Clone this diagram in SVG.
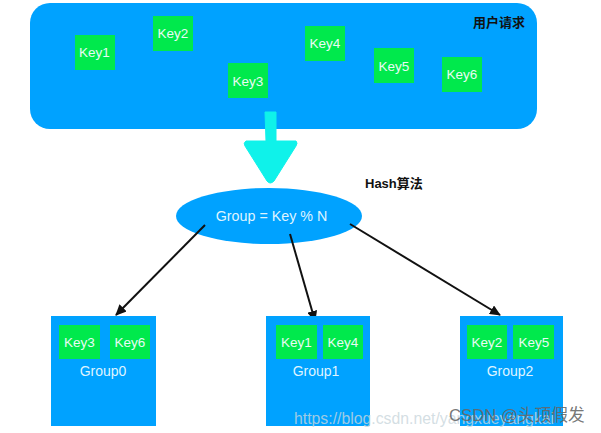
<svg xmlns="http://www.w3.org/2000/svg" width="601" height="433" viewBox="0 0 601 433">
<style>
text{font-family:"Liberation Sans",Arial,sans-serif}
.b{fill:#00a2ff}
.k{fill:#00e94c}
.t{fill:#e8fbf4;font-size:13.500px;text-anchor:middle}
.g{fill:#dff4ff;font-size:14px;text-anchor:middle}
.h{fill:#111;font-size:13px;font-weight:bold;font-family:"Liberation Sans","Noto Sans CJK SC",sans-serif}
.c{stroke:#111;stroke-width:2;fill:none;marker-end:url(#a)}
</style>
<defs><marker id="a" markerUnits="userSpaceOnUse" markerWidth="11" markerHeight="10" refX="10" refY="5" orient="auto"><path d="M0 0L11 5L0 10z" fill="#111"/></marker></defs>
<rect width="601" height="433" fill="#fff"/>
<g id="request">
<rect class="b" x="30" y="3" width="507" height="126" rx="20"/>
<text class="h" x="473" y="27">用户请求</text>
</g>
<g id="key1"><rect class="k" x="75" y="35" width="40" height="35"/><text class="t" x="94.500" y="57">Key1</text></g>
<g id="key2"><rect class="k" x="153" y="16" width="40" height="35"/><text class="t" x="173" y="38">Key2</text></g>
<g id="key3"><rect class="k" x="228" y="63" width="40" height="35"/><text class="t" x="248" y="86">Key3</text></g>
<g id="key4"><rect class="k" x="305" y="26" width="40" height="35"/><text class="t" x="325" y="48">Key4</text></g>
<g id="key5"><rect class="k" x="374" y="48" width="40" height="35"/><text class="t" x="394" y="71">Key5</text></g>
<g id="key6"><rect class="k" x="442" y="57" width="40" height="35"/><text class="t" x="462" y="79">Key6</text></g>
<g id="hash-arrow"><path d="M265 112H276V141H296Q298 143 296 146L274 181Q270 185 267 181L245 146Q243 143 246 141H266Z" fill="#0ff2ea" stroke="#0ff2ea" stroke-width="1" stroke-linejoin="round"/></g>
<g id="hash">
<ellipse class="b" cx="269" cy="216" rx="93" ry="28"/>
<text x="271.500" y="221" fill="#dff4ff" font-size="14.300" text-anchor="middle">Group = Key % N</text>
<text class="h" x="365" y="188">Hash算法</text>
</g>
<g id="connectors">
<line class="c" x1="205" y1="225" x2="116" y2="315"/>
<line class="c" x1="290" y1="234" x2="315" y2="321"/>
<line class="c" x1="350" y1="224" x2="500" y2="315"/>
</g>
<g id="group0"><rect class="b" x="51" y="316" width="105" height="110"/>
<rect class="k" x="59" y="325" width="41" height="34"/><text class="t" x="79.500" y="347">Key3</text>
<rect class="k" x="110" y="325" width="40" height="34"/><text class="t" x="130" y="347">Key6</text>
<text class="g" x="103" y="376">Group0</text></g>
<g id="group1"><rect class="b" x="266" y="316" width="104" height="110"/>
<rect class="k" x="276" y="325" width="41" height="34"/><text class="t" x="296.500" y="347">Key1</text>
<rect class="k" x="323" y="325" width="40" height="34"/><text class="t" x="343" y="347">Key4</text>
<text class="g" x="316" y="376">Group1</text></g>
<g id="group2"><rect class="b" x="460" y="316" width="103" height="110"/>
<rect class="k" x="467" y="325" width="40" height="34"/><text class="t" x="487" y="347">Key2</text>
<rect class="k" x="513" y="325" width="41" height="34"/><text class="t" x="534" y="347">Key5</text>
<text class="g" x="510" y="376">Group2</text></g>
<g id="watermark">
<text x="294" y="424" font-size="15.800" fill="#c9d6dc" fill-opacity=".8">https://blog.csdn.net/yangxueyangkai</text>
<text x="449" y="421" font-size="16.700" fill="#666" fill-opacity=".9" style="font-family:'Liberation Sans','Noto Sans CJK SC',sans-serif">CSDN @头顶假发</text>
</g>
</svg>
